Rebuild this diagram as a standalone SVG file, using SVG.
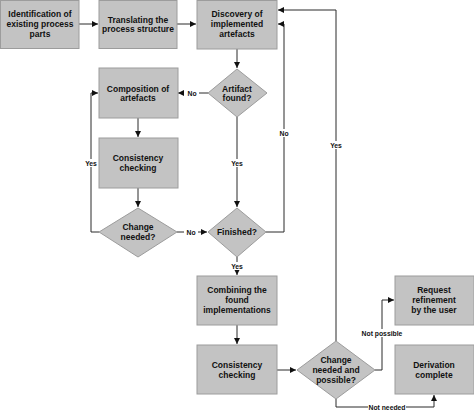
<svg xmlns="http://www.w3.org/2000/svg" width="474" height="412" viewBox="0 0 474 412">
<style>
.box{fill:#c3c3c3;stroke:#9c9c9c;stroke-width:1}
.t{font-family:"Liberation Sans",Arial,sans-serif;font-weight:bold;font-size:8.5px;fill:#111;text-anchor:middle}
.l{font-family:"Liberation Sans",Arial,sans-serif;font-weight:bold;font-size:6.8px;fill:#111;text-anchor:middle}
.c{fill:none;stroke:#2a2a2a;stroke-width:1}
.bg{fill:#fff}
</style>
<defs>
<marker id="ah" markerUnits="userSpaceOnUse" markerWidth="7" markerHeight="6" refX="6" refY="3" orient="auto">
<path d="M0,0 L6,3 L0,6 Z" fill="#111"/>
</marker>
</defs>
<g id="connectors">
<path class="c" d="M79,24 H98" marker-end="url(#ah)"/>
<path class="c" d="M177,24 H196" marker-end="url(#ah)"/>
<path class="c" d="M237,49 V68" marker-end="url(#ah)"/>
<path class="c" d="M208,93 H178" marker-end="url(#ah)"/>
<path class="c" d="M237,117 V207" marker-end="url(#ah)"/>
<path class="c" d="M138,118 V137" marker-end="url(#ah)"/>
<path class="c" d="M138,188 V207" marker-end="url(#ah)"/>
<path class="c" d="M99,232 H91 V93 H98" marker-end="url(#ah)"/>
<path class="c" d="M177,232 H207" marker-end="url(#ah)"/>
<path class="c" d="M266,232 H284 V24 H278" marker-end="url(#ah)"/>
<path class="c" d="M237,257 V275" marker-end="url(#ah)"/>
<path class="c" d="M237,325 V344" marker-end="url(#ah)"/>
<path class="c" d="M277,370 H296" marker-end="url(#ah)"/>
<path class="c" d="M336,341 V10 H278" marker-end="url(#ah)"/>
<path class="c" d="M375,370 H382 V300 H394" marker-end="url(#ah)"/>
<path class="c" d="M336,399 V407 H434 V395" marker-end="url(#ah)"/>
<rect class="bg" x="184" y="89" width="15" height="8"/><text class="l" x="192" y="95.5">No</text>
<rect class="bg" x="230" y="159" width="15" height="8"/><text class="l" x="237" y="165.5">Yes</text>
<rect class="bg" x="84" y="159" width="15" height="8"/><text class="l" x="91" y="165.5">Yes</text>
<rect class="bg" x="184" y="228" width="14" height="8"/><text class="l" x="191" y="234.5">No</text>
<rect class="bg" x="277" y="129" width="14" height="8"/><text class="l" x="284" y="135.5">No</text>
<rect class="bg" x="329" y="141" width="15" height="8"/><text class="l" x="336" y="147.5">Yes</text>
<rect class="bg" x="230" y="262" width="15" height="8"/><text class="l" x="237" y="268.5">Yes</text>
<rect class="bg" x="361" y="329" width="43" height="8"/><text class="l" x="382" y="335.5">Not possible</text>
<rect class="bg" x="368" y="403" width="38" height="8"/><text class="l" x="387" y="409.5">Not needed</text>
</g>
<g id="n1"><rect class="box" x="0.5" y="0.5" width="78.5" height="48"/>
<text class="t" x="40" y="17">Identification of</text><text class="t" x="40" y="27">existing process</text><text class="t" x="40" y="37">parts</text></g>
<g id="n2"><rect class="box" x="99" y="0.5" width="78" height="48"/>
<text class="t" x="138" y="23">Translating the</text><text class="t" x="138" y="32">process structure</text></g>
<g id="n3"><rect class="box" x="197" y="0.5" width="80" height="48.5"/>
<text class="t" x="237" y="17">Discovery of</text><text class="t" x="237" y="27">implemented</text><text class="t" x="237" y="37">artefacts</text></g>
<g id="n4"><path class="box" d="M237,69 L267,93 L237,117 L208,93 Z"/>
<text class="t" x="237" y="92">Artifact</text><text class="t" x="237" y="101">found?</text></g>
<g id="n5"><rect class="box" x="99" y="68" width="79" height="50"/>
<text class="t" x="138" y="92">Composition of</text><text class="t" x="138" y="101">artefacts</text></g>
<g id="n6"><rect class="box" x="99" y="138" width="79" height="50"/>
<text class="t" x="138" y="161">Consistency</text><text class="t" x="138" y="171">checking</text></g>
<g id="n7"><path class="box" d="M138,208 L177,232 L138,257 L99,232 Z"/>
<text class="t" x="138" y="230">Change</text><text class="t" x="138" y="240">needed?</text></g>
<g id="n8"><path class="box" d="M237,208 L266,232 L237,257 L208,232 Z"/>
<text class="t" x="237" y="235">Finished?</text></g>
<g id="n9"><rect class="box" x="197" y="276" width="80" height="49"/>
<text class="t" x="237" y="293">Combining the</text><text class="t" x="237" y="303">found</text><text class="t" x="237" y="313">implementations</text></g>
<g id="n10"><rect class="box" x="197" y="345" width="80" height="49"/>
<text class="t" x="237" y="368">Consistency</text><text class="t" x="237" y="378">checking</text></g>
<g id="n11"><path class="box" d="M336,341 L375,370 L336,399 L297,370 Z"/>
<text class="t" x="336" y="363">Change</text><text class="t" x="336" y="373">needed and</text><text class="t" x="336" y="383">possible?</text></g>
<g id="n12"><rect class="box" x="395" y="276" width="79" height="49"/>
<text class="t" x="434" y="293">Request</text><text class="t" x="434" y="303">refinement</text><text class="t" x="434" y="313">by the user</text></g>
<g id="n13"><rect class="box" x="395" y="345" width="79" height="49"/>
<text class="t" x="434" y="368">Derivation</text><text class="t" x="434" y="378">complete</text></g>
</svg>
